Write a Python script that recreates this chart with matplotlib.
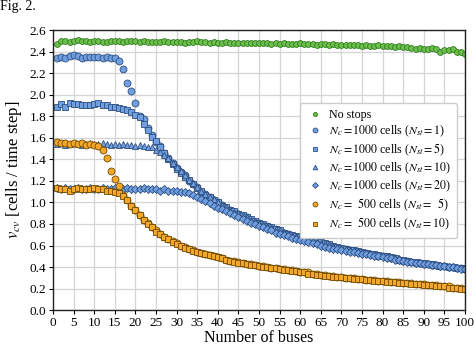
import numpy as np
import matplotlib
matplotlib.use("Agg")
import matplotlib.pyplot as plt

plt.rcParams['font.family'] = ['Liberation Serif', 'DejaVu Serif']
plt.rcParams['mathtext.fontset'] = 'stix'

buses = np.arange(1, 101)

# no stops
v_free = [2.47, 2.50, 2.50, 2.49, 2.50, 2.51, 2.50, 2.50, 2.49, 2.50,
          2.50, 2.49, 2.49, 2.50, 2.50, 2.50, 2.49, 2.50, 2.50, 2.50,
          2.49, 2.50, 2.49, 2.49, 2.49, 2.49, 2.50, 2.49, 2.49, 2.49,
          2.49, 2.48, 2.49, 2.49, 2.50, 2.49, 2.49, 2.48, 2.49, 2.48,
          2.48, 2.49, 2.48, 2.48, 2.48, 2.48, 2.48, 2.48, 2.48, 2.48,
          2.48, 2.48, 2.47, 2.48, 2.47, 2.48, 2.47, 2.47, 2.47, 2.48,
          2.47, 2.47, 2.47, 2.46, 2.47, 2.47, 2.46, 2.47, 2.46, 2.46,
          2.46, 2.46, 2.46, 2.46, 2.45, 2.46, 2.45, 2.45, 2.46, 2.45,
          2.45, 2.45, 2.44, 2.45, 2.44, 2.44, 2.43, 2.42, 2.43, 2.42,
          2.42, 2.43, 2.42, 2.40, 2.41, 2.41, 2.42, 2.40, 2.40, 2.38]

# Nc = 1000 cells
v_1000_st1 = [2.34, 2.35, 2.34, 2.36, 2.37, 2.36, 2.34, 2.35, 2.35, 2.35,
              2.35, 2.34, 2.35, 2.34, 2.34, 2.31, 2.24, 2.11, 2.03, 1.92,
              1.80, 1.77, 1.69, 1.63, 1.56, 1.52, 1.46, 1.41, 1.37, 1.32,
              1.28, 1.25, 1.20, 1.17, 1.14, 1.10, 1.08, 1.05, 1.02, 1.00,
              0.98, 0.95, 0.93, 0.91, 0.89, 0.87, 0.86, 0.84, 0.82, 0.81,
              0.79, 0.78, 0.76, 0.75, 0.73, 0.72, 0.71, 0.69, 0.68, 0.67,
              0.66, 0.65, 0.64, 0.63, 0.62, 0.61, 0.60, 0.59, 0.58, 0.57,
              0.57, 0.56, 0.55, 0.54, 0.53, 0.53, 0.52, 0.51, 0.50, 0.50,
              0.49, 0.48, 0.48, 0.47, 0.46, 0.46, 0.45, 0.44, 0.44, 0.43,
              0.43, 0.42, 0.42, 0.41, 0.41, 0.40, 0.40, 0.39, 0.39, 0.38]

v_1000_st5 = [1.89, 1.91, 1.89, 1.92, 1.91, 1.91, 1.90, 1.90, 1.90, 1.91,
              1.92, 1.90, 1.90, 1.89, 1.89, 1.88, 1.87, 1.86, 1.84, 1.81,
              1.79, 1.73, 1.67, 1.61, 1.57, 1.51, 1.46, 1.40, 1.36, 1.31,
              1.27, 1.24, 1.21, 1.17, 1.13, 1.11, 1.07, 1.05, 1.02, 1.00,
              0.97, 0.96, 0.93, 0.92, 0.89, 0.88, 0.86, 0.85, 0.83, 0.81,
              0.80, 0.78, 0.77, 0.75, 0.74, 0.72, 0.71, 0.70, 0.69, 0.68,
              0.67, 0.66, 0.64, 0.64, 0.63, 0.62, 0.61, 0.60, 0.59, 0.58,
              0.57, 0.56, 0.56, 0.55, 0.54, 0.53, 0.52, 0.52, 0.51, 0.50,
              0.50, 0.49, 0.48, 0.47, 0.47, 0.46, 0.45, 0.45, 0.44, 0.44,
              0.43, 0.43, 0.42, 0.41, 0.41, 0.40, 0.40, 0.39, 0.39, 0.38]

v_1000_st10 = [1.54, 1.55, 1.53, 1.54, 1.55, 1.54, 1.53, 1.54, 1.55, 1.54,
               1.54, 1.55, 1.54, 1.53, 1.54, 1.53, 1.54, 1.53, 1.53, 1.52,
               1.53, 1.52, 1.51, 1.51, 1.49, 1.47, 1.44, 1.41, 1.37, 1.33,
               1.29, 1.25, 1.21, 1.18, 1.14, 1.11, 1.08, 1.05, 1.03, 1.00,
               0.98, 0.96, 0.93, 0.91, 0.90, 0.88, 0.86, 0.84, 0.83, 0.81,
               0.80, 0.78, 0.77, 0.75, 0.74, 0.73, 0.71, 0.70, 0.69, 0.68,
               0.67, 0.66, 0.65, 0.64, 0.62, 0.62, 0.61, 0.60, 0.59, 0.58,
               0.57, 0.56, 0.56, 0.55, 0.54, 0.53, 0.53, 0.52, 0.51, 0.50,
               0.50, 0.49, 0.48, 0.48, 0.47, 0.46, 0.46, 0.45, 0.44, 0.44,
               0.43, 0.43, 0.42, 0.42, 0.41, 0.41, 0.40, 0.40, 0.39, 0.38]

v_1000_st20 = [1.13, 1.12, 1.13, 1.12, 1.12, 1.13, 1.12, 1.12, 1.13, 1.12,
               1.12, 1.13, 1.12, 1.12, 1.13, 1.12, 1.12, 1.13, 1.12, 1.12,
               1.12, 1.13, 1.12, 1.12, 1.12, 1.11, 1.12, 1.11, 1.11, 1.11,
               1.10, 1.10, 1.09, 1.07, 1.05, 1.03, 1.01, 0.99, 0.97, 0.95,
               0.94, 0.92, 0.90, 0.88, 0.86, 0.85, 0.83, 0.81, 0.80, 0.78,
               0.77, 0.75, 0.74, 0.72, 0.71, 0.70, 0.69, 0.67, 0.66, 0.65,
               0.64, 0.63, 0.62, 0.61, 0.60, 0.59, 0.58, 0.57, 0.57, 0.56,
               0.55, 0.54, 0.54, 0.53, 0.52, 0.52, 0.51, 0.50, 0.50, 0.49,
               0.48, 0.48, 0.47, 0.47, 0.46, 0.45, 0.45, 0.44, 0.44, 0.43,
               0.43, 0.42, 0.42, 0.41, 0.41, 0.40, 0.40, 0.39, 0.38, 0.38]

# Nc = 500 cells
v_500_st5 = [1.56, 1.55, 1.55, 1.54, 1.55, 1.54, 1.55, 1.53, 1.54, 1.53,
             1.52, 1.49, 1.41, 1.29, 1.22, 1.15, 1.07, 1.02, 0.97, 0.93,
             0.88, 0.84, 0.81, 0.77, 0.74, 0.71, 0.68, 0.66, 0.64, 0.62,
             0.60, 0.59, 0.57, 0.56, 0.54, 0.53, 0.52, 0.51, 0.50, 0.49,
             0.48, 0.47, 0.46, 0.46, 0.45, 0.44, 0.43, 0.43, 0.42, 0.41,
             0.41, 0.40, 0.39, 0.39, 0.38, 0.38, 0.37, 0.37, 0.36, 0.35,
             0.35, 0.35, 0.34, 0.34, 0.33, 0.33, 0.32, 0.32, 0.31, 0.31,
             0.30, 0.30, 0.30, 0.29, 0.29, 0.28, 0.28, 0.28, 0.27, 0.27,
             0.27, 0.26, 0.26, 0.26, 0.25, 0.25, 0.25, 0.24, 0.24, 0.24,
             0.23, 0.23, 0.23, 0.22, 0.22, 0.22, 0.21, 0.21, 0.21, 0.20]

v_500_st10 = [1.13, 1.12, 1.12, 1.11, 1.12, 1.13, 1.12, 1.12, 1.12, 1.13,
              1.12, 1.12, 1.11, 1.11, 1.10, 1.09, 1.06, 1.02, 0.97, 0.93,
              0.88, 0.84, 0.80, 0.77, 0.73, 0.71, 0.68, 0.66, 0.63, 0.61,
              0.60, 0.58, 0.57, 0.55, 0.54, 0.53, 0.52, 0.51, 0.50, 0.49,
              0.48, 0.47, 0.46, 0.45, 0.44, 0.44, 0.43, 0.42, 0.42, 0.41,
              0.40, 0.40, 0.39, 0.39, 0.38, 0.37, 0.37, 0.36, 0.36, 0.35,
              0.35, 0.34, 0.34, 0.33, 0.33, 0.32, 0.32, 0.31, 0.31, 0.31,
              0.30, 0.30, 0.29, 0.29, 0.29, 0.28, 0.28, 0.27, 0.27, 0.27,
              0.26, 0.26, 0.26, 0.25, 0.25, 0.25, 0.24, 0.24, 0.24, 0.23,
              0.23, 0.23, 0.22, 0.22, 0.22, 0.21, 0.21, 0.21, 0.20, 0.20]

green = ('#6cc04a', '#2f7a22')
blue = ('#6f9fe0', '#2f4f80')
orange = ('#f5a72a', '#6e4a00')

series = [
    (v_free, 'o', green, 4.2, 'No stops'),
    (v_1000_st1, 'o', blue, 5.0, r'$N_c = 1000$ cells ($N_{st} = 1$)'),
    (v_1000_st5, 's', blue, 4.6, r'$N_c = 1000$ cells ($N_{st} = 5$)'),
    (v_1000_st10, '^', blue, 4.8, r'$N_c = 1000$ cells ($N_{st} = 10$)'),
    (v_1000_st20, 'D', blue, 4.2, r'$N_c = 1000$ cells ($N_{st} = 20$)'),
    (v_500_st5, 'o', orange, 5.0, r'$N_c = \;\;500$ cells ($N_{st} = \;\;5$)'),
    (v_500_st10, 's', orange, 4.6, r'$N_c = \;\;500$ cells ($N_{st} = 10$)'),
]

fig = plt.figure(figsize=(4.74, 3.45), dpi=100)
ax = fig.add_axes([0.112, 0.101, 0.869, 0.812])

for vals, mk, (fc, ec), ms, lab in series:
    ax.plot(buses, vals, linestyle='none', marker=mk, markersize=ms,
            markerfacecolor=fc, markeredgecolor=ec, markeredgewidth=0.6,
            label=lab)

ax.set_xlim(0, 100)
ax.set_ylim(0, 2.6)
ax.set_xticks(np.arange(0, 101, 5))
ax.set_yticks(np.arange(0, 2.61, 0.2))
ax.set_yticklabels([f'{t:.1f}' for t in np.arange(0, 2.61, 0.2)])
ax.grid(True, color='#d4d4d4', linewidth=0.9)
ax.set_axisbelow(True)
ax.tick_params(labelsize=9.5, length=3, width=0.8, pad=2)
for s in ax.spines.values():
    s.set_linewidth(1.0)
    s.set_color('#222222')

ax.set_xlabel('Number of buses', fontsize=11.5, labelpad=1)
ax.set_ylabel(r'$v_{cv}$ [cells / time step]', fontsize=12, labelpad=4)

leg = ax.legend(loc='upper right', bbox_to_anchor=(0.995, 0.76), fontsize=8.6,
                markerscale=0.7, labelspacing=0.22, handletextpad=0.35,
                handlelength=1.6, borderpad=0.5, framealpha=1,
                edgecolor='#cccccc', fancybox=True)

fig.text(0.0, 1.0, 'Fig. 2.', fontsize=10, va='top', ha='left')

fig.savefig('out.png', dpi=100)
